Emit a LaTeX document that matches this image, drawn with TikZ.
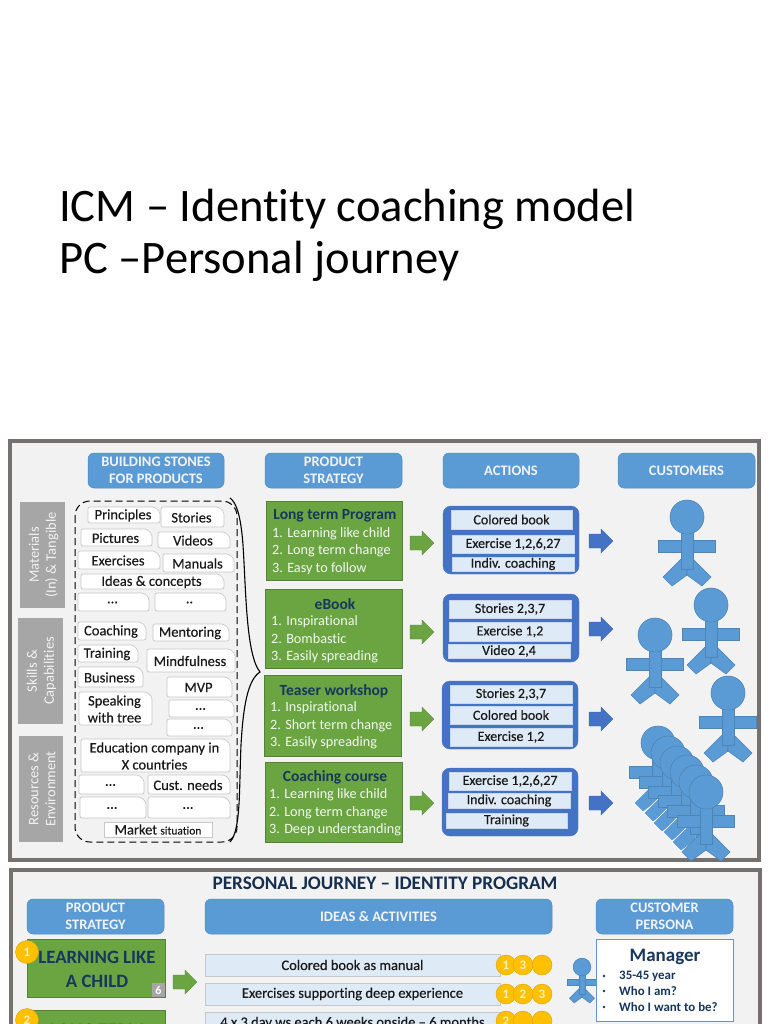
\documentclass[tikz,border=0pt]{standalone}
\usepackage{fontspec}
\setmainfont[Ligatures=NoCommon]{Carlito}
\newfontfamily\medf[FakeBold=0.3,Ligatures=NoCommon]{Carlito}
\usetikzlibrary{calc}
\definecolor{hdr}{HTML}{5B9BD5}
\definecolor{hdrline}{HTML}{4F8CC4}
\definecolor{paneln}{HTML}{F2F2F2}
\definecolor{panelb}{HTML}{767171}
\definecolor{sidegray}{HTML}{A6A6A6}
\definecolor{grn}{HTML}{6AA542}
\definecolor{grnline}{HTML}{548235}
\definecolor{navy}{HTML}{17375E}
\definecolor{actblue}{HTML}{4472C4}
\definecolor{cell}{HTML}{DEEAF6}
\definecolor{orng}{HTML}{FFC000}
\definecolor{pline}{HTML}{4F85B5}
\tikzset{
 panel/.style={draw=panelb,fill=paneln,line width=4pt},
 header/.style={fill=hdr,draw=hdrline,line width=.5pt,rounded corners=6pt,text=paneln,font=\fontsize{14.5}{17}\selectfont\bfseries,align=center},
 sidebox/.style={fill=sidegray,text=paneln,rotate=90,font=\fontsize{14.5}{17}\selectfont,align=center},
 stoneline/.style={draw=black!22,fill=white!98!paneln,line width=.7pt,rounded corners=2pt},
 stonetext/.style={font=\fontsize{14.5}{17}\medf,align=center,inner sep=0pt,text=black!90},
 greenbox/.style={fill=grn,draw=grnline,line width=.7pt},
 gtitle/.style={font=\fontsize{15.5}{17}\selectfont\bfseries,text=navy,inner sep=0pt},
 gline/.style={font=\fontsize{14.2}{17}\selectfont,text=white!92!grn,inner sep=0pt,anchor=west},
 actbox/.style={fill=actblue,draw=actblue,rounded corners=8pt},
 cellbox/.style={fill=cell,draw=white!70!actblue,line width=.5pt,font=\fontsize{14}{15}\medf,text=black!90},
 garrow/.style={fill=grn,draw=grnline,line width=.3pt},
 barrow/.style={fill=actblue,draw=actblue!85!black,line width=.3pt},
 body/.style={fill=hdr,draw=pline,line width=.6pt},
 rowbox/.style={fill=cell,draw=black!22,line width=1pt,font=\fontsize{14.5}{15}\medf,text=black!90},
 dot/.style={circle,fill=orng,draw=orng!85!black,line width=.4pt,inner sep=0pt,minimum size=20pt,text=white!75!orng,font=\fontsize{13}{15}\selectfont\bfseries},
 persontext/.style={font=\fontsize{12.9}{15}\selectfont\bfseries,text=navy,inner sep=0pt,anchor=west},
}
\newcommand{\bx}[7]{%
 \pgfmathsetmacro\bxw{#5-#3}\pgfmathsetmacro\bxh{#6-#4}%
 \node[#2,minimum width=\bxw pt,minimum height=\bxh pt,inner sep=0pt] (#1) at ({(#3+#5)/2},{(#4+#6)/2}) {#7};}
\newcommand{\stone}[6]{%
 \draw[stoneline] (#2,#3) -- ({#4-5},#3) -- (#4,{#3+5}) -- (#4,#5) -- (#2,#5) -- cycle;
 \node[stonetext] (#1) at ({(#2+#4)/2-1},{(#3+#5)/2+.5}) {#6};}
\newcommand{\blockarrow}[3]{%
 \draw[#1] (#2,{#3-7}) -- ({#2+12},{#3-7}) -- ({#2+12},{#3-12}) -- ({#2+24},#3) -- ({#2+12},{#3+12}) -- ({#2+12},{#3+7}) -- (#2,{#3+7}) -- cycle;}
\newcommand{\person}[4]{%
 \begin{scope}[shift={(#1,#2)},x=#3pt,y=-#3pt]
 \draw[body] (-29,23) rectangle (28,35);
 \draw[body,draw=#4] (0,58) -- (-15,69) -- (-24,60) -- (-5,41) -- (0,41) -- cycle;
 \draw[body] (0,58) -- (15,69) -- (24,60) -- (5,41) -- (0,41) -- cycle;
 \draw[body] (-6,15) rectangle (6,52);
 \draw[body] (0,0) circle (17);
 \end{scope}}
\begin{document}
\begin{tikzpicture}[x=1pt,y=-1pt]
\useasboundingbox (0,0) rectangle (768,1024);
\clip (0,0) rectangle (768,1024);
\fill[white] (0,0) rectangle (768,1024);
\node[anchor=base west,inner sep=0pt,font=\fontsize{46.6}{52}\selectfont] (t1) at (59,222) {ICM – Identity coaching model};
\node[anchor=base west,inner sep=0pt,font=\fontsize{46.6}{52}\selectfont] (t2) at (59,273) {PC –Personal journey};
\draw[panel] (9.5,441) rectangle (758.5,860);
\bx{h1}{header}{88}{453}{224}{488}{BUILDING STONES\\FOR PRODUCTS}
\bx{h2}{header}{265}{453}{402}{488}{PRODUCT\\STRATEGY}
\bx{h3}{header}{443}{453}{579}{488}{ACTIONS}
\bx{h4}{header}{618}{453}{755}{488}{CUSTOMERS}
\fill[sidegray] (20,502) rectangle (65,608);
\fill[sidegray] (18,618) rectangle (63,724);
\fill[sidegray] (19,736) rectangle (63,842);
\node[sidebox] (s1) at (43.5,555) {Materials\\(In) \& Tangible};
\node[sidebox] (s2) at (41.5,671) {Skills \&\\Capabilities};
\node[sidebox] (s3) at (42,789) {Resources \&\\Environment};
\draw[black,line width=1pt,dash pattern=on 7pt off 4pt,rounded corners=15pt] (75,501) rectangle (237,842);
\draw[black,line width=1.1pt] (230,498) .. controls (237,503) and (241,518) .. (243,545) .. controls (246,590) and (246,655) .. (260,672) .. controls (247,680) and (243,710) .. (241,745) .. controls (239,790) and (241,830) .. (230,842);
\stone{a1}{88}{507}{160}{523}{Principles}
\stone{a2}{161}{507}{224}{527}{Stories}
\stone{a3}{81}{529}{152}{546}{Pictures}
\stone{a4}{158}{532}{230}{548}{Videos}
\stone{a5}{78}{551}{160}{569}{Exercises}
\stone{a6}{163}{554}{234}{572}{Manuals}
\stone{a7}{81}{574}{224}{589}{Ideas \& concepts}
\stone{a8}{78}{593}{149}{611}{...}
\stone{a9}{155}{593}{226}{611}{..}
\stone{b1}{78}{622}{146}{640}{Coaching}
\stone{b2}{153}{624}{229}{641}{Mentoring}
\stone{b3}{78}{645}{138}{662}{Training}
\stone{b4}{147}{649}{235}{672}{Mindfulness}
\stone{b5}{78}{667}{143}{687}{Business}
\stone{b6}{167}{677}{232}{697}{MVP}
\stone{b7}{79}{692}{152}{725}{Speaking\\with tree}
\stone{b8}{169}{700}{234}{717}{...}
\stone{b9}{167}{719}{232}{736}{...}
\stone{c1}{81}{739}{230}{772}{Education company in\\X countries}
\stone{c2}{79}{775}{144}{794}{...}
\stone{c3}{148}{775}{230}{794}{Cust. needs}
\stone{c4}{80}{797}{146}{818}{...}
\stone{c5}{148}{797}{230}{818}{...}
\draw[stoneline,rounded corners=0pt] (104,822) rectangle (212,837);
\node[stonetext] (c6) at (158,829.5) {Market {\fontsize{11.5}{13}\selectfont situation}};
\bx{g1}{greenbox}{266}{501}{402}{580}{}
\bx{g2}{greenbox}{265}{589}{402}{668}{}
\bx{g3}{greenbox}{264}{675}{401}{756}{}
\bx{g4}{greenbox}{265}{762}{402}{842}{}
\node[gtitle] (g1t) at (335,516) {Long term Program};
\node[gline] (g1a) at (272,534) {1. Learning like child};
\node[gline] (g1b) at (272,551) {2. Long term change};
\node[gline] (g1c) at (272,569) {3. Easy to follow};
\node[gtitle] (g2t) at (335,604) {eBook};
\node[gline] (g2a) at (271,622) {1. Inspirational};
\node[gline] (g2b) at (271,639) {2. Bombastic};
\node[gline] (g2c) at (271,657) {3. Easily spreading};
\node[gtitle] (g3t) at (334,691) {Teaser workshop};
\node[gline] (g3a) at (270,708) {1. Inspirational};
\node[gline] (g3b) at (270,726) {2. Short term change};
\node[gline] (g3c) at (270,743) {3. Easily spreading};
\node[gtitle] (g4t) at (335,777) {Coaching course};
\node[gline] (g4a) at (269,795) {1. Learning like child};
\node[gline] (g4b) at (269,813) {2. Long term change};
\node[gline] (g4c) at (269,830) {3. Deep understanding};
\blockarrow{garrow}{410}{543}
\blockarrow{garrow}{410}{632}
\blockarrow{garrow}{410}{719}
\blockarrow{garrow}{410}{803}
\blockarrow{barrow}{589}{541}
\blockarrow{barrow}{589}{629}
\blockarrow{barrow}{589}{719}
\blockarrow{barrow}{589}{803}
\bx{k1}{actbox}{443}{506}{579}{574}{}
\bx{k2}{actbox}{443}{594}{579}{662}{}
\bx{k3}{actbox}{442}{681}{578}{749}{}
\bx{k4}{actbox}{442}{768}{578}{836}{}
\bx{k1a}{cellbox}{451}{510}{572}{529}{Colored book}
\bx{k1b}{cellbox}{452}{535}{574}{553}{Exercise 1,2,6,27}
\bx{k1c}{cellbox}{452}{557}{574}{571}{Indiv. coaching}
\bx{k2a}{cellbox}{449}{600}{571}{618}{Stories 2,3,7}
\bx{k2b}{cellbox}{449}{622}{571}{641}{Exercise 1,2}
\bx{k2c}{cellbox}{448}{644}{570}{658}{Video 2,4}
\bx{k3a}{cellbox}{450}{685}{572}{703}{Stories 2,3,7}
\bx{k3b}{cellbox}{450}{706}{572}{724}{Colored book}
\bx{k3c}{cellbox}{450}{728}{572}{746}{Exercise 1,2}
\bx{k4a}{cellbox}{449}{772}{571}{790}{Exercise 1,2,6,27}
\bx{k4b}{cellbox}{448}{793}{570}{808}{Indiv. coaching}
\bx{k4c}{cellbox}{446}{813}{567}{828}{Training}
\person{687}{517}{1}{pline}
\person{711}{605}{1}{pline}
\person{655}{635}{1}{pline}
\person{728}{693}{1}{pline}
\person{658}{743}{1}{white}
\person{668}{753}{1}{white}
\person{677}{763}{1}{white}
\person{687}{772}{1}{white}
\person{696}{782}{1}{white}
\person{706}{792}{1}{pline}
\draw[panel] (11,870) rectangle (760,1040);
\node[inner sep=0pt,font=\fontsize{19.2}{20}\selectfont\bfseries,text=navy!85!black] (pj) at (385,883) {PERSONAL JOURNEY – IDENTITY PROGRAM};
\bx{h5}{header}{27}{899}{164}{934}{PRODUCT\\STRATEGY}
\bx{h6}{header}{205}{899}{552}{934}{IDEAS \& ACTIVITIES}
\bx{h7}{header}{596}{899}{733}{934}{CUSTOMER\\PERSONA}
\bx{l1}{greenbox}{27}{939}{165}{997}{}
\node[inner sep=0pt,text=navy,font=\fontsize{18.8}{23.5}\selectfont\bfseries,align=center] (l1t) at (97,969.5) {LEARNING LIKE\\A CHILD};
\bx{l2}{greenbox}{27}{1010}{165}{1060}{}
\node[inner sep=0pt,text=navy,font=\fontsize{18.8}{23.5}\selectfont\bfseries] (l2t) at (97,1030) {LONG TERM};
\bx{six}{fill=sidegray,text=white,font=\fontsize{12}{13}\selectfont\bfseries}{152}{983}{165}{997}{6}
\node[dot,minimum size=23pt] (n1) at (27,952) {1};
\node[dot,minimum size=23pt] (n2) at (27,1020) {2};
\blockarrow{garrow}{173}{982}
\bx{r1}{rowbox}{205}{954}{500}{976}{Colored book as manual}
\bx{r2}{rowbox}{205}{983}{500}{1005}{Exercises supporting deep experience}
\bx{r3}{rowbox}{205}{1012}{500}{1034}{4 x 3 day ws each 6 weeks onside – 6 months}
\node[dot] (d11) at (506,965) {1};
\node[dot] (d12) at (523,965) {3};
\node[dot] (d13) at (542,965) {};
\node[dot] (d21) at (506,994) {1};
\node[dot] (d22) at (523,994) {2};
\node[dot] (d23) at (542,994) {3};
\node[dot] (d31) at (506,1021) {2};
\node[dot] (d32) at (523,1021) {};
\node[dot] (d33) at (542,1021) {};
\person{582}{967}{.52}{pline}
\bx{m}{fill=white,draw=hdr,line width=.8pt}{596}{939}{733}{1021}{}
\node[inner sep=0pt,font=\fontsize{19}{22}\selectfont\bfseries,text=navy] (mt) at (665,957) {Manager};
\node[persontext] (m1) at (619,976) {35-45 year};
\node[persontext] (m2) at (619,991) {Who I am?};
\node[persontext] (m3) at (619,1007) {Who I want to be?};
\fill[navy] (604,976) circle (1.3);
\fill[navy] (604,991) circle (1.3);
\fill[navy] (604,1007) circle (1.3);
\end{tikzpicture}
\end{document}
